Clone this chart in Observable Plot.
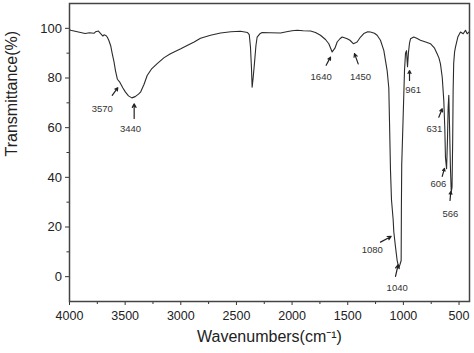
<!DOCTYPE html>
<html>
<head>
<meta charset="utf-8">
<script src="https://cdn.jsdelivr.net/npm/d3@7"></script>
<script src="https://cdn.jsdelivr.net/npm/@observablehq/plot@0.6"></script>
<style>
  html, body { margin: 0; padding: 0; background: #fff; }
  #chart svg { display: block; }
</style>
</head>
<body>
<div id="chart"></div>
<script>
// FTIR spectrum (wavenumber cm^-1, transmittance %)
const wavenumbers = [
  4000, 3990, 3950, 3900, 3860, 3820, 3780, 3766, 3740, 3720, 3700, 3690, 3670, 3660, 3647, 3630,
  3616, 3600, 3587, 3570, 3548, 3520, 3497, 3470, 3440, 3410, 3380, 3362, 3330, 3302,
  3260, 3212, 3150, 3093, 3000, 2943, 2880, 2823, 2733, 2643, 2550, 2464, 2400, 2385,
  2374, 2365, 2359, 2350, 2338, 2325, 2314, 2290, 2269, 2200, 2104, 2050, 2000, 1954,
  1900, 1834, 1790, 1745, 1700, 1670, 1640, 1615, 1595, 1570, 1550, 1530, 1505, 1480,
  1450, 1430, 1416, 1385, 1356, 1320, 1296, 1260, 1236, 1206, 1176, 1146, 1131, 1125,
  1116, 1107, 1092, 1086, 1071, 1056, 1041, 1030, 1020, 1018, 1015, 1003, 990, 981,
  972, 963, 955, 945, 936, 907, 880, 847, 800, 757, 720, 697, 680, 667, 651, 637,
  628, 622, 612, 604, 598, 592, 586, 578, 570, 563, 557, 553, 548, 540, 532, 511,
  487, 463, 442, 427, 412, 406
];
const transmittance = [
  99.5, 99.2, 98.8, 98.3, 97.9, 98.2, 98.0, 98.6, 98.9, 97.9, 96.9, 97.4, 97.0, 96.4, 95.2, 93.0,
  89.8, 86.5, 83.0, 79.5, 78.3, 76.0, 74.3, 72.8, 72.0, 72.5, 73.5, 74.3, 77.5, 81.0,
  83.8, 85.8, 88.2, 89.8, 91.8, 93.1, 94.5, 96.0, 97.2, 98.1, 98.6, 98.8, 98.3, 97.5,
  92.5, 84.0, 76.3, 80.0, 86.0, 93.0, 96.5, 97.8, 98.3, 98.2, 98.1, 98.6, 99.0, 99.2,
  99.0, 98.9, 98.3, 97.2, 95.5, 93.8, 90.5, 92.0, 94.5, 95.8, 96.5, 96.2, 95.8, 95.2,
  93.8, 94.2, 94.5, 96.5, 97.9, 98.6, 98.5, 98.0, 97.2, 95.2, 91.1, 83.0, 76.0, 63.0,
  43.0, 31.0, 23.0, 18.0, 12.0, 6.5, 3.5, 5.0, 6.5, 27.0, 45.0, 63.0, 83.0, 90.0,
  91.0, 84.5, 90.0, 94.0, 95.8, 96.5, 96.0, 95.2, 94.5, 93.8, 92.0, 89.8, 88.0, 85.7, 80.3, 71.0,
  60.0, 48.0, 43.5, 55.0, 68.0, 73.0, 62.0, 45.0, 34.0, 36.0, 55.0, 75.0, 86.0, 90.5, 92.4, 96.5,
  98.5, 97.8, 99.2, 97.8, 98.5, 98.2
];

// Peak annotations: label, label position, arrow tail and arrow head (data units)
const peakLabels = ["3570", "3440", "1640", "1450", "961", "631", "606", "566", "1080", "1040"];
const labelWn    = [3706, 3452, 1739, 1385, 912, 721, 685, 577, 1280, 1056];
const labelT     = [67.6, 59.3, 80.3, 80.6, 75.0, 59.6, 37.5, 25.4, 10.6, -4.5];
const tailWn     = [3616, 3419, 1694, 1406, 945, 682, 651, 581, 1206, 1071];
const tailT      = [73.0, 63.7, 85.1, 85.7, 79.0, 64.2, 40.4, 30.7, 13.9, 0.1];
const headWn     = [3566, 3419, 1655, 1439, 945, 651, 631, 574, 1110, 1047];
const headT      = [76.1, 69.6, 88.4, 89.8, 83.0, 67.6, 43.6, 34.3, 16.2, 4.8];

// Axis ticks
const xMajorTicks = [500, 1000, 1500, 2000, 2500, 3000, 3500, 4000];
const xMinorTicks = [750, 1250, 1750, 2250, 2750, 3250, 3750];
const yMajorTicks = [0, 20, 40, 60, 80, 100];
const yMinorTicks = [10, 30, 50, 70, 90];

const xTitle = "Wavenumbers(cm\u207B\u00B9)";
const yTitle = "Transmittance(%)";

const spectrum = wavenumbers.map((w, i) => ({w, t: transmittance[i]}));
const notes = peakLabels.map((label, i) => ({
  label, lx: labelWn[i], ly: labelT[i],
  x1: tailWn[i], y1: tailT[i], x2: headWn[i], y2: headT[i]
}));

const font = "'Liberation Sans', Arial, Helvetica, sans-serif";
const plain = d3.format("d");

const chart = Plot.plot({
  width: 474,
  height: 353,
  marginLeft: 69,
  marginRight: 5,
  marginTop: 3,
  marginBottom: 52,
  style: {fontFamily: font, background: "#fff", color: "#222", overflow: "visible"},
  x: {domain: [4000, 406], label: null},
  y: {domain: [-10, 110], label: null},
  marks: [
    Plot.axisX({ticks: xMajorTicks, tickFormat: plain, tickSize: 4, tickPadding: 6, fontSize: 12.5, label: null, stroke: "#333"}),
    Plot.axisX({ticks: xMinorTicks, tickSize: 3, tickFormat: () => "", label: null, stroke: "#333"}),
    Plot.axisY({ticks: yMajorTicks, tickFormat: plain, tickSize: 4, tickPadding: 3.5, fontSize: 13, label: null, stroke: "#333"}),
    Plot.axisY({ticks: yMinorTicks, tickSize: 2.5, tickFormat: () => "", label: null, stroke: "#333"}),
    Plot.line(spectrum, {x: "w", y: "t", stroke: "#2b2b2b", strokeWidth: 1.1}),
    Plot.arrow(notes, {x1: "x1", y1: "y1", x2: "x2", y2: "y2", stroke: "#222", strokeWidth: 1.2, headLength: 5, headAngle: 55}),
    Plot.text(notes, {x: "lx", y: "ly", text: "label", fontSize: 9.5, fill: "#333"}),
    Plot.frame({stroke: "#444", strokeWidth: 1.5}),
    Plot.text([xTitle], {frameAnchor: "bottom", dy: 40, fontSize: 16, fill: "#222"}),
    Plot.text([yTitle], {frameAnchor: "left", dx: -58, dy: 4, rotate: -90, fontSize: 16, fill: "#222"})
  ]
});

document.getElementById("chart").appendChild(chart);
</script>
</body>
</html>
